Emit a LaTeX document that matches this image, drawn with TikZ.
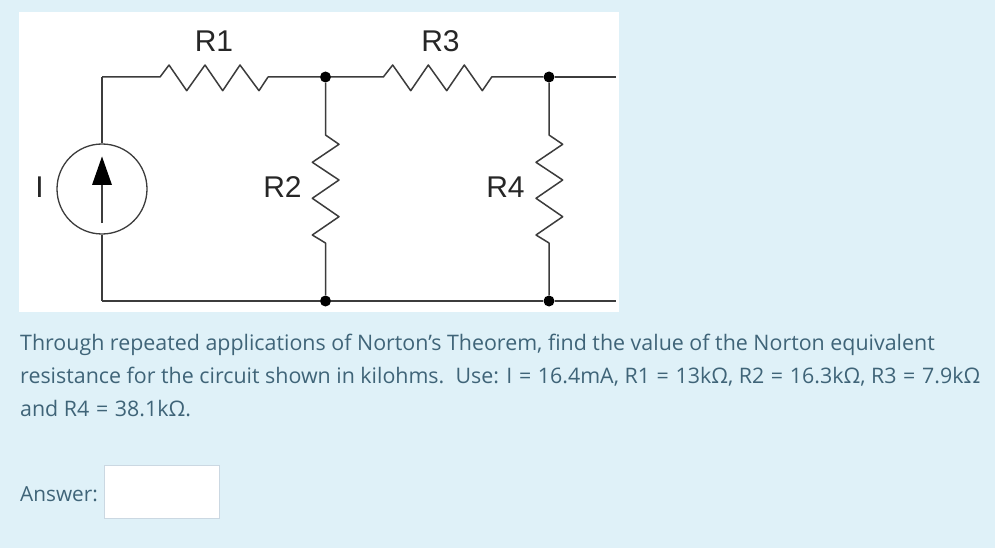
\documentclass[tikz,border=0pt]{standalone}
\usepackage{fontspec}
\setmainfont{Open Sans}
\newfontfamily\circfont{Liberation Sans}
\definecolor{pagebg}{HTML}{DFF1F8}
\definecolor{bodytext}{HTML}{3F6478}
\definecolor{wirecol}{HTML}{3C3C3C}
\definecolor{boxline}{HTML}{CBD8E2}
\newcommand{\eqgap}{\hspace{1.1pt}=\hspace{1.1pt}}
\tikzset{
  wire/.style={draw=wirecol,line width=1.5pt,line join=round},
  junction/.style={circle,fill=black,inner sep=0pt,minimum size=11pt},
  circlabel/.style={font=\circfont\fontsize{30}{32}\selectfont,text=black!85,inner sep=0pt},
  bodyline/.style={font=\fontsize{21.4}{26}\selectfont,text=bodytext,inner sep=0pt,anchor=base west},
}
\begin{document}
\begin{tikzpicture}[x=1pt,y=-1pt]
\useasboundingbox (0,0) rectangle (995,548);
\fill[pagebg] (0,0) rectangle (995,548);
\fill[white] (19,12) rectangle (619,312);
% junctions and free ends
\coordinate (tl) at (102,77);
\coordinate (bl) at (102,301);
\node[junction] (n1) at (325.5,77) {};
\node[junction] (n2) at (549,77) {};
\node[junction] (n3) at (325.5,301) {};
\node[junction] (n4) at (549,301) {};
\coordinate (tr) at (616,77);
\coordinate (br) at (616,301);
% current source
\node[circle,draw=wirecol,line width=1.3pt,minimum size=90pt,inner sep=0pt] (src) at (102,189) {};
\coordinate (stem) at (102,223);
\coordinate (tip) at (102,156.5);
\draw[wire] (tl) -- (src.north);
\draw[wire] (src.south) -- (bl);
\draw[wire] (stem) -- (102,185);
\fill[black] (tip) -- (112,185) -- (92,185) -- cycle;
% top rail with R1, R3
\draw[wire] (tl) -- (160,77) -- (169,65) -- (186.7,90.7) -- (205,65) -- (222.7,90.7) -- (240,65) -- (259,90.7) -- (268,77) -- (n1);
\draw[wire] (n1) -- (383.3,77) -- (392.7,65) -- (410.7,90.7) -- (428.3,65) -- (446.7,90.7) -- (464.3,65) -- (482.3,90.7) -- (491.7,77) -- (n2);
\draw[wire] (n2) -- (tr);
% R2, R4
\draw[wire] (n1) -- (325.5,135) -- (339,144.3) -- (312.3,162.3) -- (339,180) -- (312.3,198.3) -- (339,216.7) -- (312.3,235) -- (325.5,243) -- (n3);
\draw[wire] (n2) -- (549,135) -- (562.7,144.3) -- (536,162.3) -- (562.7,180) -- (536,198.3) -- (562.7,216.7) -- (536,235) -- (549,243) -- (n4);
% bottom rail
\draw[wire] (bl) -- (n3) -- (n4) -- (br);
% circuit labels
\node[circlabel] (lr1) at (214,41) {R1};
\node[circlabel] (lr3) at (440.5,41) {R3};
\node[circlabel] (lr2) at (282.5,187) {R2};
\node[circlabel] (lr4) at (505.5,187) {R4};
\node[circlabel] (li) at (39.5,187) {I};
% question text
\node[bodyline] (t1) at (20,350) {Through repeated applications of Norton’s Theorem, find the value of the Norton equivalent};
\node[bodyline] (t2) at (20,383) {resistance for the circuit shown in kilohms.\ \ Use: I \eqgap{} 16.4mA, R1 \eqgap{} 13kΩ, R2 \eqgap{} 16.3kΩ, R3 \eqgap{} 7.9kΩ};
\node[bodyline] (t3) at (20,416) {and R4 \eqgap{} 38.1kΩ.};
\node[bodyline,font=\fontsize{20.8}{26}\selectfont] (ans) at (20,501.5) {Answer:};
\node[draw=boxline,fill=white,line width=1pt,minimum width=115pt,minimum height=53pt,inner sep=0pt] (box) at (162,492) {};
\end{tikzpicture}
\end{document}
